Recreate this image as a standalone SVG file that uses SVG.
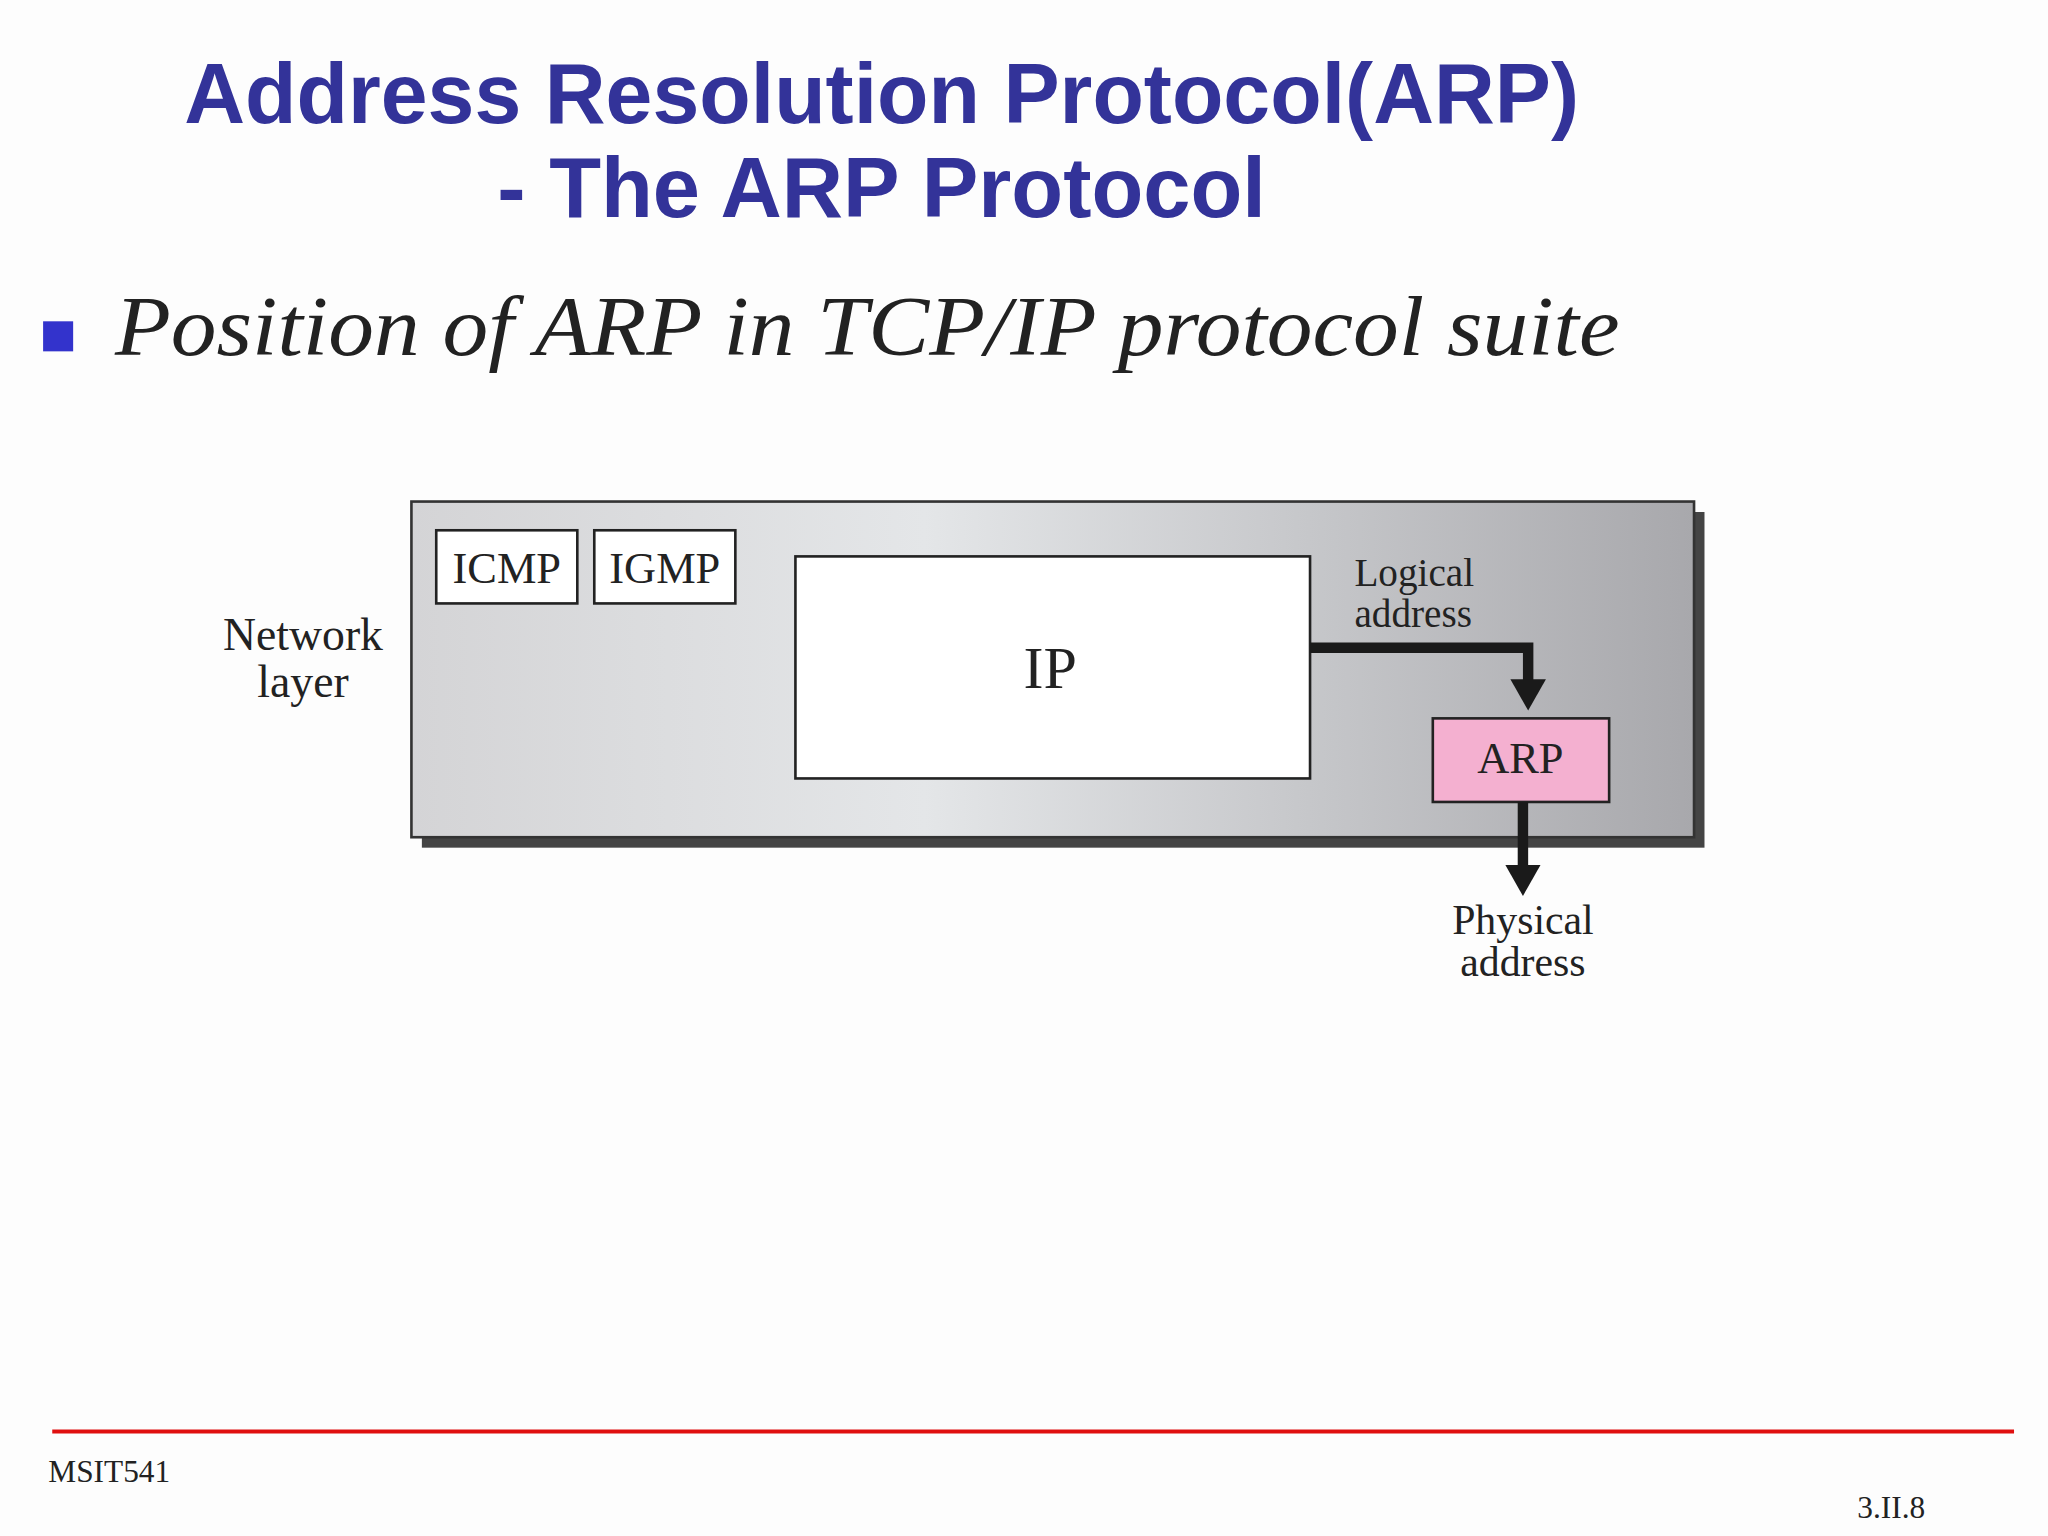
<svg xmlns="http://www.w3.org/2000/svg" width="2048" height="1536" viewBox="0 0 2048 1536">
<defs>
<linearGradient id="g" x1="0" y1="0" x2="1" y2="0">
<stop offset="0" stop-color="#d4d4d6"/><stop offset="0.4" stop-color="#e4e6e8"/><stop offset="1" stop-color="#a8a8ac"/>
</linearGradient>
<marker id="ah" markerWidth="4" markerHeight="4" refX="2" refY="2" orient="auto" markerUnits="strokeWidth"><path d="M0,0.3 L3,2 L0,3.7 Z" fill="#1a1a1a"/></marker>
<style>
.t{font-family:"Liberation Sans",Arial,sans-serif;fill:#333399;font-size:65px;font-weight:bold;text-anchor:middle}
.s{font-family:"Liberation Serif","Times New Roman",serif;fill:#222}
.b{fill:#fff;stroke:#222;stroke-width:2}
.c{stroke:#1a1a1a;stroke-width:8;fill:none}
</style>
</defs>
<rect width="2048" height="1536" fill="#fdfdfd"/>
<g transform="scale(1.30612)">
<g id="title"><text class="t" x="675" y="94" textLength="1068" lengthAdjust="spacingAndGlyphs">Address Resolution Protocol(ARP)</text><text class="t" x="675" y="166">- The ARP Protocol</text></g>
<rect x="33" y="246" width="23" height="23" fill="#3333cc"/>
<text class="s" x="88" y="272" font-size="64" font-style="italic" fill="#111" textLength="1152" lengthAdjust="spacingAndGlyphs">Position of ARP in TCP/IP protocol suite</text>
<g id="network">
<rect x="323" y="392" width="982" height="257" fill="#444"/>
<rect x="315" y="384" width="982" height="257" fill="url(#g)" stroke="#333" stroke-width="2"/>
<text class="s" x="232" y="498" font-size="35" text-anchor="middle">Network</text>
<text class="s" x="232" y="534" font-size="35" text-anchor="middle">layer</text>
</g>
<g id="icmp"><rect class="b" x="334" y="406" width="108" height="56"/><text class="s" x="388" y="446" font-size="34" text-anchor="middle">ICMP</text></g>
<g id="igmp"><rect class="b" x="455" y="406" width="108" height="56"/><text class="s" x="509" y="446" font-size="34" text-anchor="middle">IGMP</text></g>
<g id="ip"><rect class="b" x="609" y="426" width="394" height="170"/><text class="s" x="804" y="527" font-size="46" text-anchor="middle">IP</text></g>
<g id="arp"><rect x="1097" y="550" width="135" height="64" fill="#f4b0d0" stroke="#222" stroke-width="2"/><text class="s" x="1164" y="592" font-size="34" text-anchor="middle">ARP</text></g>
<g id="connectors">
<path class="c" d="M1003,496 H1170 V536" marker-end="url(#ah)"/>
<path class="c" d="M1166,614 V678" marker-end="url(#ah)"/>
</g>
<text class="s" x="1037" y="449" font-size="30">Logical</text>
<text class="s" x="1037" y="480" font-size="30">address</text>
<text class="s" x="1166" y="715" font-size="32" text-anchor="middle">Physical</text>
<text class="s" x="1166" y="747" font-size="32" text-anchor="middle">address</text>
<line x1="40" y1="1096" x2="1542" y2="1096" stroke="#e01010" stroke-width="3"/>
<text class="s" x="37" y="1135" font-size="24" fill="#111">MSIT541</text>
<text class="s" x="1422" y="1162" font-size="24" fill="#111">3.II.8</text>
</g>
</svg>
